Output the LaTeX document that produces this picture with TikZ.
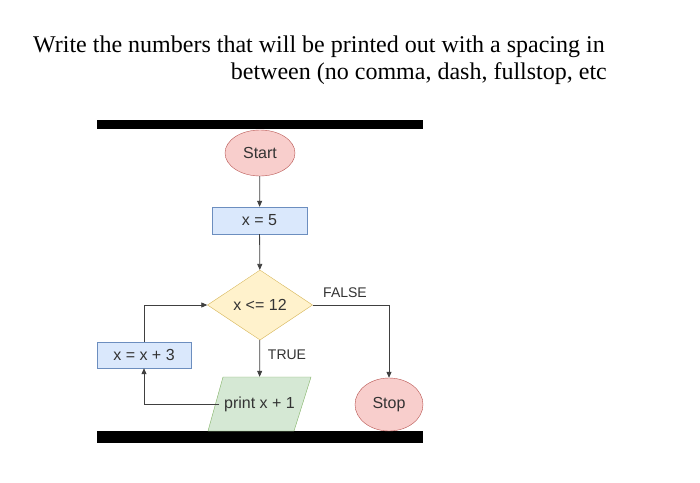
\documentclass[tikz,border=0pt]{standalone}
\usepackage{fontspec}
\setmainfont{Liberation Serif}
\newfontfamily\arial{Liberation Sans}
\usetikzlibrary{shapes.geometric,arrows.meta}
\definecolor{pinkf}{HTML}{F8CECC}\definecolor{pinkd}{HTML}{B85450}
\definecolor{bluef}{HTML}{DAE8FC}\definecolor{blued}{HTML}{6C8EBF}
\definecolor{yelf}{HTML}{FFF2CC}\definecolor{yeld}{HTML}{D6B656}
\definecolor{grnf}{HTML}{D5E8D4}\definecolor{grnd}{HTML}{82B366}
\definecolor{txt}{HTML}{333333}
\begin{document}
\begin{tikzpicture}[x=1pt,y=-1pt,
  lbl/.style={font=\arial\fontsize{16}{18}\selectfont,text=txt},
  term/.style={ellipse,draw=pinkd,fill=pinkf,minimum width=70pt,minimum height=46pt,inner sep=0pt,lbl},
  proc/.style={rectangle,draw=blued,fill=bluef,minimum width=95pt,minimum height=27pt,inner sep=0pt,lbl},
  conn/.style={draw=black!75,line width=0.8pt,-{Triangle[length=6pt,width=5pt]}}]
\useasboundingbox (0,0) rectangle (700,482);
\fill[white] (0,0) rectangle (700,482);
\node[font=\fontsize{24}{28}\selectfont,anchor=base west,inner sep=0pt] (t1) at (33,52) {Write the numbers that will be printed out with a spacing in};
\node[font=\fontsize{24}{28}\selectfont,anchor=base east,inner sep=0pt] (t2) at (607,79) {between (no comma, dash, fullstop, etc};
\fill[black] (97,120) rectangle (423,129);
\fill[black] (97,431) rectangle (423,443);
\node[term] (start) at (260,153) {Start};
\node[proc] (x5) at (259.5,220.5) {x = 5};
\node[diamond,draw=yeld,fill=yelf,minimum width=105pt,minimum height=70pt,inner sep=0pt,aspect=1.5,lbl] (cond) at (260,305) {x <= 12};
\node[proc,minimum width=94pt,minimum height=26pt] (inc) at (144,355) {x = x + 3};
\draw[draw=grnd,fill=grnf] (223,377) -- (311,377) -- (294,431) -- (208,431) -- cycle;
\node[lbl,minimum width=80pt,minimum height=54pt,inner sep=0pt] (pr) at (259.5,404) {print x + 1};
\node[term,minimum width=68pt,minimum height=53pt] (stop) at (389,404.5) {Stop};
\draw[conn] (start) -- (x5);
\draw[conn] (x5) -- (cond);
\draw[conn] (cond) -- (pr);
\draw[conn] (cond.east) -| (stop.north);
\draw[conn] (pr.west) -| (inc.south);
\draw[conn] (inc.north) |- (cond.west);
\node[lbl,font=\arial\fontsize{14}{16}\selectfont] (f) at (345,293) {FALSE};
\node[lbl,font=\arial\fontsize{14}{16}\selectfont] (t) at (287,355) {TRUE};
\end{tikzpicture}
\end{document}
